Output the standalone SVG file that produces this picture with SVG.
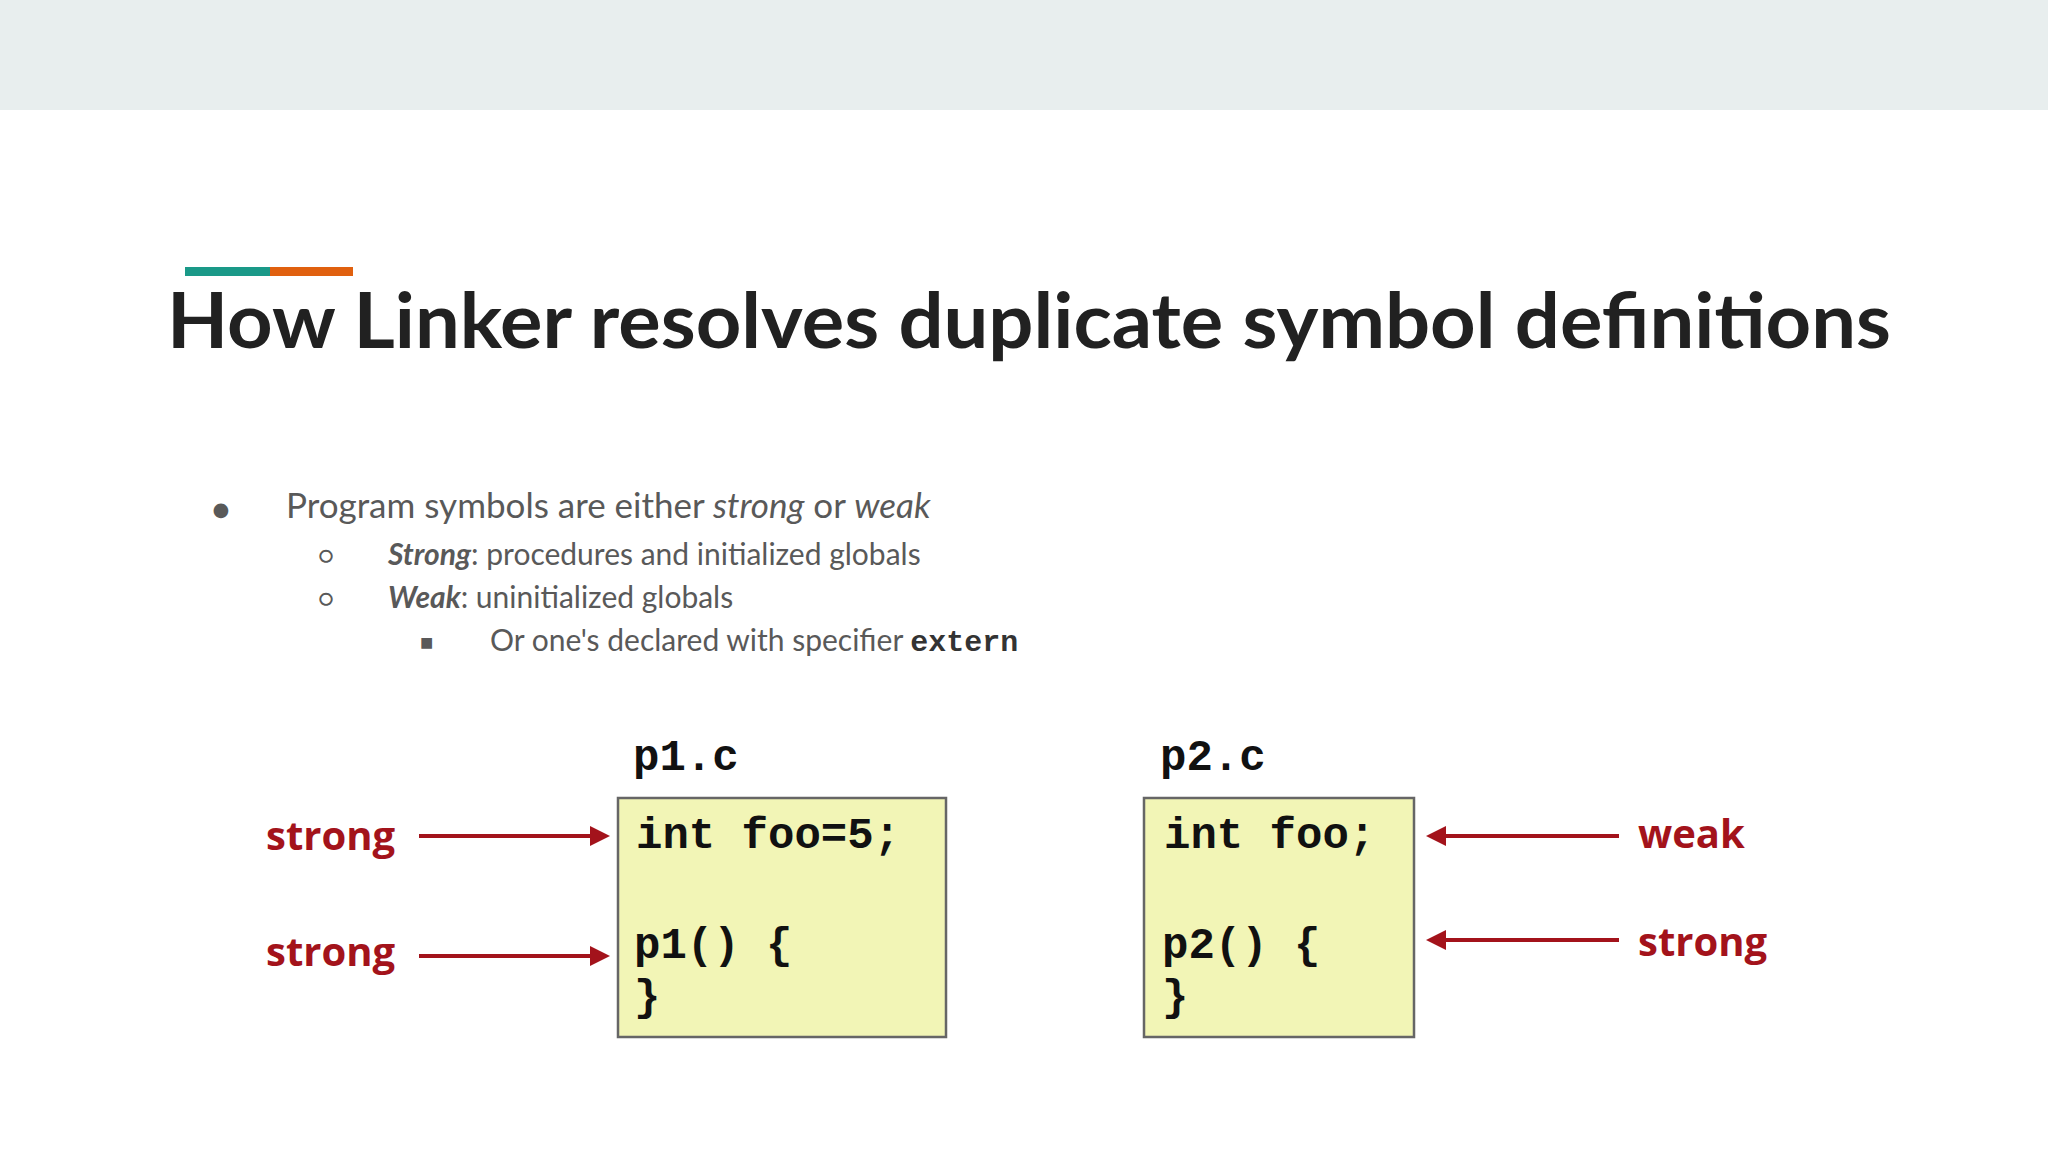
<svg xmlns="http://www.w3.org/2000/svg" width="2048" height="1152" viewBox="0 0 2048 1152">
<defs>
<style>
.b{font-family:Lato,"Open Sans",sans-serif;fill:#595959}
.m{font-family:"Liberation Mono","DejaVu Sans Mono",monospace;font-weight:bold;fill:#111}
.r{font-family:"Open Sans","Liberation Sans",sans-serif;font-weight:bold;fill:#a3131b}
.box{fill:#f2f5b6;stroke:#666;stroke-width:2.5}
.a{stroke:#a3131b;stroke-width:4;fill:none;marker-end:url(#ah)}
</style>
<marker id="ah" markerWidth="5" markerHeight="5" refX="4" refY="2.5" orient="auto" markerUnits="strokeWidth"><path d="M0,0 L5,2.5 L0,5 Z" fill="#a3131b"/></marker>
</defs>
<rect width="2048" height="1152" fill="#fff"/>
<rect width="2048" height="110" fill="#e8eeee"/>
<rect x="185" y="267" width="85" height="9" fill="#1a9988"/>
<rect x="270" y="267" width="83" height="9" fill="#e0600f"/>
<text x="167" y="348" font-family="Lato,'Open Sans',sans-serif" font-weight="bold" font-size="76" fill="#212121" textLength="1724" lengthAdjust="spacingAndGlyphs">How Linker resolves duplicate symbol definitions</text>
<g id="bullets">
<text class="b" x="212" y="520" font-size="30">●</text>
<text class="b" x="286" y="518" font-size="35">Program symbols are either <tspan font-style="italic">strong</tspan> or <tspan font-style="italic">weak</tspan></text>
<text class="b" x="318" y="564" font-size="24">○</text>
<text class="b" x="388" y="565" font-size="30"><tspan font-style="italic" font-weight="bold">Strong</tspan>: procedures and initialized globals</text>
<text class="b" x="318" y="607" font-size="24">○</text>
<text class="b" x="388" y="608" font-size="30"><tspan font-style="italic" font-weight="bold">Weak</tspan>: uninitialized globals</text>
<text class="b" x="420" y="650" font-size="22">■</text>
<text class="b" x="490" y="651" font-size="30">Or one's declared with specifier <tspan font-family="'Liberation Mono',monospace" font-weight="bold" fill="#333">extern</tspan></text>
</g>
<g id="p1">
<text class="m" x="633" y="770" font-size="44">p1.c</text>
<rect class="box" x="618" y="798" width="328" height="239"/>
<text class="m" x="636" y="848" font-size="44">int foo=5;</text>
<text class="m" x="634" y="958" font-size="44">p1() {</text>
<text class="m" x="634" y="1010" font-size="44">}</text>
</g>
<g id="p2">
<text class="m" x="1160" y="770" font-size="44">p2.c</text>
<rect class="box" x="1144" y="798" width="270" height="239"/>
<text class="m" x="1164" y="848" font-size="44">int foo;</text>
<text class="m" x="1162" y="958" font-size="44">p2() {</text>
<text class="m" x="1162" y="1010" font-size="44">}</text>
</g>
<g id="labels">
<text class="r" x="266" y="850" font-size="40">strong</text>
<text class="r" x="266" y="966" font-size="40">strong</text>
<text class="r" x="1638" y="848" font-size="40">weak</text>
<text class="r" x="1638" y="956" font-size="40">strong</text>
</g>
<g id="connectors">
<line class="a" x1="419" y1="836" x2="606" y2="836"/>
<line class="a" x1="419" y1="956" x2="606" y2="956"/>
<line class="a" x1="1619" y1="836" x2="1430" y2="836"/>
<line class="a" x1="1619" y1="940" x2="1430" y2="940"/>
</g>
</svg>
